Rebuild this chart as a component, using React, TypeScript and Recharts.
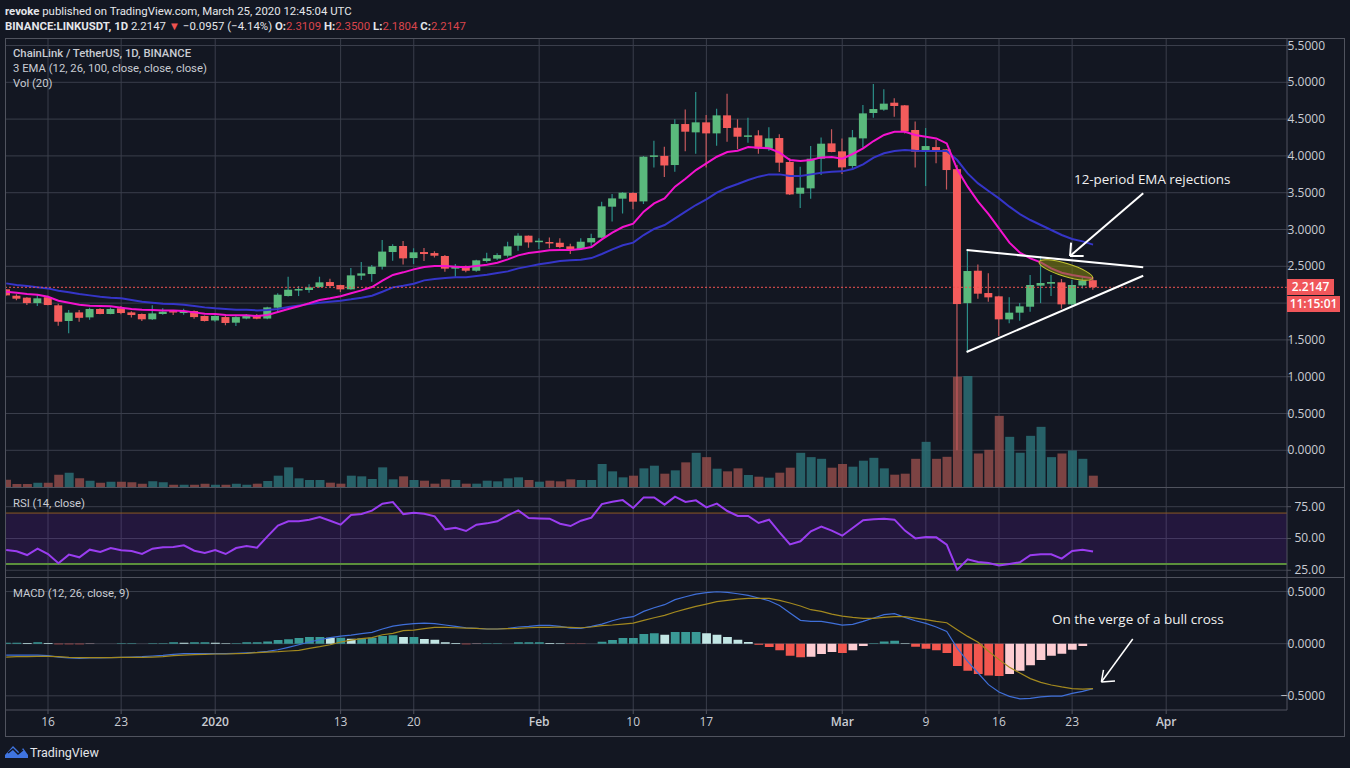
import React from "react";
import {
  ComposedChart, Bar, Line, XAxis, YAxis, CartesianGrid, ReferenceLine, ReferenceArea, ReferenceDot, Cell,
} from "recharts";

const firstDay = -4;
const opens = [
  2.187,2.1,2.074,2.0,2.08, 1.97,1.757,1.874,1.806,1.92, 1.852,1.93,1.874,1.852,1.78, 1.852,1.892,1.865,1.892,1.825,
  1.764,1.81,1.734,1.79,1.83, 1.79,1.938,2.096,2.173,2.178, 2.218,2.286,2.245,2.187,2.373, 2.395,2.495,2.694,2.776,2.612,
  2.694,2.68,2.64,2.468,2.504, 2.44,2.572,2.604,2.644,2.78, 2.916,2.835,2.83,2.82,2.771, 2.735,2.825,2.889,3.31,3.419,
  3.496,3.382,3.99,4.0,3.876, 4.433,4.32,4.456,4.306,4.551, 4.383,4.261,4.279,4.1,4.243, 3.917,3.487,3.559,3.962,4.17,
  4.062,3.863,4.238,4.583,4.628, 4.723,4.687,4.352,4.057,4.12, 4.089,3.82,2.0,2.44,2.137, 2.092,1.779,1.87,1.951,2.237,
  2.264,2.282,1.983,2.24,2.3109,
];
const highs = [
  2.19,2.12,2.08,2.11,2.1, 1.99,1.906,1.906,1.938,1.93, 1.94,1.96,1.89,1.86,1.97, 1.929,1.9,1.924,1.9,1.83,
  1.83,1.825,1.82,1.852,1.852, 1.95,2.133,2.359,2.232,2.255, 2.359,2.332,2.25,2.477,2.558, 2.517,2.857,2.798,2.843,2.744,
  2.748,2.703,2.653,2.531,2.51, 2.59,2.685,2.676,2.834,2.948, 2.92,2.88,2.893,2.88,2.807, 2.88,2.943,3.378,3.482,3.51,
  3.505,3.998,4.207,4.125,4.497, 4.632,4.868,4.555,4.641,4.845, 4.497,4.519,4.35,4.388,4.293, 3.967,3.853,4.134,4.25,4.361,
  4.238,4.352,4.691,4.977,4.904, 4.782,4.69,4.469,4.379,4.216, 4.09,3.876,2.735,2.526,2.404, 2.1,2.078,2.0,2.381,2.64,
  2.381,2.327,2.314,2.368,2.35,
];
const lows = [
  2.1,2.04,1.974,1.96,1.97, 1.693,1.589,1.747,1.775,1.85, 1.85,1.847,1.806,1.757,1.77, 1.843,1.838,1.843,1.788,1.75,
  1.747,1.7,1.689,1.78,1.78, 1.78,1.883,2.09,2.096,2.14, 2.21,2.214,2.15,2.18,2.314, 2.291,2.458,2.576,2.526,2.531,
  2.572,2.62,2.427,2.359,2.418, 2.427,2.553,2.585,2.62,2.712, 2.753,2.735,2.744,2.744,2.667, 2.72,2.775,2.88,3.11,3.219,
  3.274,3.346,3.844,3.713,3.786, 4.062,4.03,3.844,4.139,4.193, 4.089,4.18,4.03,4.07,3.781, 3.468,3.292,3.419,3.74,4.05,
  3.754,3.817,4.112,4.519,4.614, 4.533,4.306,3.844,3.591,3.899, 3.545,0.0,1.34,2.06,2.019, 1.553,1.725,1.761,1.883,2.0,
  2.096,1.924,1.951,2.2,2.1804,
];
const closes = [
  2.105,2.06,2.0,2.065,1.974, 1.747,1.87,1.8,1.92,1.852, 1.92,1.865,1.838,1.78,1.86, 1.884,1.879,1.892,1.81,1.757,
  1.825,1.73,1.81,1.825,1.788, 1.942,2.114,2.182,2.191,2.214, 2.282,2.232,2.187,2.377,2.404, 2.495,2.7,2.776,2.608,2.69,
  2.667,2.644,2.468,2.504,2.44, 2.581,2.608,2.653,2.771,2.916, 2.825,2.848,2.81,2.762,2.717, 2.834,2.884,3.315,3.423,3.5,
  3.378,3.989,4.007,3.87,4.433, 4.329,4.456,4.306,4.551,4.379, 4.261,4.279,4.1,4.238,3.908, 3.477,3.568,3.962,4.166,4.053,
  3.844,4.252,4.578,4.637,4.71, 4.678,4.333,4.057,4.134,4.075, 3.808,1.987,2.436,2.128,2.078, 1.779,1.87,1.956,2.246,2.273,
  2.286,1.983,2.246,2.309,2.2147,
];
const ema12 = [
  2.155,2.142,2.123,2.114,2.087, 2.033,2.006,1.978,1.965,1.96, 1.956,1.938,1.92,1.911,1.906, 1.901,1.901,1.892,1.874,1.856,
  1.852,1.838,1.834,1.834,1.825, 1.838,1.879,1.92,1.956,1.997, 2.042,2.065,2.092,2.133,2.173, 2.219,2.305,2.382,2.418,2.458,
  2.49,2.504,2.504,2.495,2.486, 2.504,2.522,2.549,2.594,2.649, 2.68,2.699,2.717,2.721,2.721, 2.735,2.762,2.866,2.957,3.034,
  3.079,3.242,3.355,3.423,3.582, 3.69,3.808,3.899,3.989,4.053, 4.071,4.121,4.112,4.103,4.044, 3.944,3.93,3.944,3.98,3.985,
  3.962,4.026,4.103,4.202,4.284, 4.329,4.329,4.284,4.261,4.238, 4.17,3.817,3.582,3.378,3.21, 3.016,2.821,2.685,2.608,2.554,
  2.472,2.413,2.382,2.359,2.336,
];
const ema26 = [
  2.268,2.246,2.232,2.214,2.2, 2.169,2.146,2.123,2.105,2.087, 2.074,2.065,2.042,2.019,2.006, 1.992,1.988,1.978,1.96,1.942,
  1.929,1.92,1.911,1.911,1.901, 1.906,1.92,1.947,1.969,1.988, 2.006,2.019,2.033,2.051,2.074, 2.101,2.155,2.214,2.237,2.264,
  2.309,2.327,2.341,2.35,2.35, 2.368,2.386,2.409,2.431,2.472, 2.499,2.527,2.549,2.572,2.581, 2.59,2.612,2.667,2.73,2.785,
  2.821,2.925,3.007,3.061,3.151, 3.242,3.333,3.41,3.5,3.568, 3.618,3.672,3.718,3.749,3.749, 3.727,3.727,3.749,3.772,3.786,
  3.79,3.822,3.885,3.976,4.035, 4.066,4.08,4.071,4.066,4.066, 4.066,3.944,3.763,3.627,3.523, 3.423,3.31,3.21,3.129,3.061,
  2.993,2.925,2.871,2.839,2.794,
];
const volumes = [
  .066,.027,.027,.039,.039, .111,.129,.078,.057,.039, .048,.048,.042,.03,.051, .042,.021,.021,.021,.03,
  .021,.021,.03,.021,.03, .054,.102,.177,.078,.063, .063,.039,.03,.102,.096, .072,.177,.069,.096,.063,
  .057,.03,.069,.063,.03, .03,.057,.051,.078,.087, .063,.048,.057,.051,.069, .063,.063,.207,.141,.087,
  .102,.168,.192,.12,.15, .222,.308,.269,.165,.141, .168,.108,.093,.084,.129, .174,.308,.269,.254,.174,
  .207,.183,.237,.263,.168, .111,.12,.254,.407,.254, .272,.994,1,.302,.335, .641,.452,.308,.461,.542,
  .269,.302,.329,.254,.102,
];
const rsi = [
  41,39.9,37,42,37.8, 30.5,37.3,35.2,41.2,39.4, 42.5,40.7,40.2,37.8,42, 43.1,43.3,44.6,40.4,38.6,
  41,37.8,42.5,44.1,42.8, 51.7,60.1,63.5,63.5,64.8, 66.9,64,60.9,68.5,69.2, 71.9,77.4,78.7,69.2,70.3,
  69.5,67.4,57.2,58.5,55.9, 60.9,61.9,63.5,68.2,72.1, 66.1,65.8,65.6,61.6,59.8, 64,66.4,77.1,78.9,80.2,
  74,82.3,82.3,76.6,82.9, 78.7,80,74.5,77.4,71.6, 67.7,67.7,62.2,64.8,54.8, 45.4,47.8,55.6,59.3,56.2,
  52.2,58.2,64.3,65.1,65.6, 64.8,56.2,50.1,51.2,50.9, 45.2,25.5,33.6,31.5,30.8, 28.7,30,31.3,36.8,37.6,
  37.6,34.2,40.2,41.2,39.7,
];
const macd = [
  -.109,-.109,-.109,-.109,-.115, -.128,-.137,-.141,-.137,-.137, -.134,-.131,-.128,-.125,-.118, -.112,-.102,-.096,-.096,-.096,
  -.096,-.096,-.093,-.089,-.083, -.073,-.058,-.035,-.01,.016, .038,.058,.073,.083,.096, .109,.141,.169,.182,.192,
  .198,.192,.179,.166,.153, .147,.141,.141,.147,.16, .166,.176,.176,.166,.15, .147,.166,.188,.22,.246,
  .259,.31,.345,.374,.422, .45,.476,.489,.498,.492, .479,.463,.438,.412,.367, .294,.224,.214,.214,.198,
  .179,.185,.214,.246,.278, .288,.252,.22,.195,.16, .118,-.042,-.169,-.281,-.393, -.463,-.505,-.53,-.524,-.511,
  -.502,-.502,-.476,-.457,-.431,
];
const signal = [
  -.128,-.125,-.125,-.121,-.121, -.125,-.131,-.134,-.134,-.134, -.134,-.131,-.131,-.131,-.128, -.125,-.115,-.109,-.105,-.102,
  -.099,-.099,-.096,-.093,-.086, -.08,-.077,-.07,-.064,-.045, -.029,-.01,.016,.035,.048, .058,.086,.099,.125,.131,
  .144,.157,.157,.153,.15, .147,.141,.141,.144,.147, .153,.157,.157,.16,.157, .153,.16,.173,.179,.188,
  .198,.224,.249,.272,.304, .332,.358,.38,.403,.415, .428,.435,.435,.435,.415, .39,.361,.326,.31,.284,
  .265,.252,.243,.243,.252, .259,.259,.246,.23,.214, .201,.134,.07,.013,-.073, -.153,-.227,-.281,-.335,-.371,
  -.396,-.415,-.431,-.435,-.431,
];
const histogram = [
  .01,.01,.006,.013,.006, -.006,-.006,-.006,-.003,0, 0,.003,.003,0,.003, .003,.013,.01,.013,.013,
  .01,.003,.003,.013,.013, .022,.035,.042,.054,.064, .064,.058,.058,.048,.051, .058,.073,.08,.064,.064,
  .045,.038,.013,.006,-.006, -.003,.003,.003,0,.013, .013,.013,.006,.003,-.003, -.003,0,.019,.035,.054,
  .054,.093,.099,.086,.112, .112,.112,.099,.086,.064, .038,.016,-.01,-.032,-.064, -.115,-.131,-.125,-.099,-.08,
  -.089,-.064,-.022,.003,.022, .029,.003,-.029,-.048,-.064, -.089,-.214,-.259,-.291,-.304, -.31,-.291,-.259,-.208,-.157,
  -.115,-.096,-.058,-.022,0,
];
const timeTicks = [0, 7, 16, 28, 35, 47, 56, 63, 76, 84, 91, 98, 107];
const timeLabels = ["16", "23", "2020", "13", "20", "Feb", "10", "17", "Mar", "9", "16", "23", "Apr"];
const boldLabels = ["2020", "Feb", "Mar", "Apr"];
const priceTicks = [0, 0.5, 1, 1.5, 2, 2.5, 3, 3.5, 4, 4.5, 5, 5.5];
const rsiTicks = [25, 50, 75];
const macdTicks = [-0.5, 0, 0.5];
const lastPrice = 2.2147;
const tagCoveredTick = 2;

const rows = opens.map((open, i) => ({
  day: firstDay + i,
  open,
  high: highs[i],
  low: lows[i],
  close: closes[i],
  range: [lows[i], highs[i]],
  ema12: ema12[i],
  ema26: ema26[i],
  volume: volumes[i],
  rsi: rsi[i],
  macd: macd[i],
  signal: signal[i],
  hist: histogram[i],
}));

const BG = "#131722";
const GRID = "#3a3e4b";
const TEXT = "#c9ccd3";
const FONT = "'Open Sans', 'Noto Sans', sans-serif";
const LEGEND_FONT = "Roboto, 'Noto Sans', sans-serif";
const X_DOMAIN: [number, number] = [-4.067, 118.56];
const W = 1350;
const MARGIN = { top: 0, right: 6, bottom: 0, left: 5.5 };

function Candle(props: any) {
  const { x, y, width, height, payload } = props;
  const { open, close, high, low } = payload;
  const up = close >= open;
  const top = Math.min(y, y + height);
  const h = Math.abs(height);
  const k = h / (high - low || 1);
  const bodyTop = top + (high - Math.max(open, close)) * k;
  const bodyH = Math.max(1.5, Math.abs(close - open) * k);
  const cx = x + width / 2;
  return (
    <g>
      <line x1={cx} x2={cx} y1={top} y2={top + h} stroke={up ? "#2b8f88" : "#c4585c"} strokeWidth={1.2} />
      <rect x={x} y={bodyTop} width={width} height={bodyH} fill={up ? "#5ab97c" : "#f45c5c"} />
    </g>
  );
}

function ValueTick(props: any) {
  const { x, y, payload, digits, skip } = props;
  const t = Number(payload.value);
  if (skip === t) return <g />;
  const s = (t < 0 ? "\u2212" : "") + Math.abs(t).toFixed(digits);
  return (
    <text x={x + 32} y={y + 4} textAnchor="end" fontSize={12} fontFamily={FONT} fill={TEXT}>{s}</text>
  );
}

function TimeTick(props: any) {
  const { x, y, payload } = props;
  const label = timeLabels[timeTicks.indexOf(payload.value)];
  return (
    <text x={x} y={y + 10} textAnchor="middle" fontSize={12} fontFamily={FONT} fill={TEXT}
      fontWeight={boldLabels.includes(label) ? 600 : 400}>{label}</text>
  );
}

function Highlight(props: any) {
  const { cx, cy } = props;
  return (
    <ellipse cx={cx} cy={cy} rx={28} ry={6.5} transform={`rotate(17 ${cx} ${cy})`}
      fill="#7d7d10" fillOpacity={0.6} stroke="#c4c431" strokeWidth={1} />
  );
}

const axisLine = { stroke: "#50535e" };
const tickLine = { stroke: "#50535e" };

const abs = (left: number, top: number, extra: React.CSSProperties = {}): React.CSSProperties => ({
  position: "absolute", left, top, whiteSpace: "nowrap", fontFamily: LEGEND_FONT, fontSize: 11.3, lineHeight: "15px", color: TEXT, ...extra,
});

export default function App() {
  return (
    <div style={{ position: "absolute", left: 0, top: 0, width: 1350, height: 768, background: BG, overflow: "hidden" }}>
      <div style={abs(5, 4, { color: "#e4e6ea", fontSize: 11.4 })}><b>revoke</b> published on TradingView.com, March 25, 2020 12:45:04 UTC</div>
      <div style={abs(5, 19, { color: "#e4e6ea", fontSize: 11.4 })}>
        <b>BINANCE:LINKUSDT, 1D</b> 2.2147 <span style={{ color: "#ef5350" }}>▼</span> −0.0957 (−4.14%) <b>O:</b><span style={{ color: "#d9454b" }}>2.3109</span> <b>H:</b><span style={{ color: "#d9454b" }}>2.3500</span> <b>L:</b><span style={{ color: "#d9454b" }}>2.1804</span> <b>C:</b><span style={{ color: "#d9454b" }}>2.2147</span>
      </div>

      {/* main panel */}
      <div style={{ position: "absolute", left: 0, top: 38 }}>
        <ComposedChart width={W} height={449} data={rows} margin={MARGIN}>
          <CartesianGrid xAxisId="x" yAxisId="price" stroke={GRID} horizontalValues={priceTicks} verticalValues={timeTicks} />
          <XAxis xAxisId="x" dataKey="day" type="number" domain={X_DOMAIN} allowDataOverflow hide ticks={timeTicks} />
          <XAxis xAxisId="vx" dataKey="day" type="number" domain={X_DOMAIN} allowDataOverflow hide />
          <YAxis yAxisId="price" orientation="right" width={57} domain={[-0.4986, 5.602]} ticks={priceTicks} allowDataOverflow
            axisLine={axisLine} tickLine={tickLine} tickSize={4} interval={0} tick={<ValueTick digits={4} skip={tagCoveredTick} />} />
          <YAxis yAxisId="vol" hide domain={[0, 4.045]} allowDataOverflow />
          <Bar xAxisId="vx" yAxisId="vol" dataKey="volume" barSize={9} isAnimationActive={false}>
            {rows.map((r) => <Cell key={r.day} fill={r.close >= r.open ? "#2c6f74" : "#8f4b49"} fillOpacity={0.85} />)}
          </Bar>
          <Bar xAxisId="x" yAxisId="price" dataKey="range" barSize={8} isAnimationActive={false} shape={<Candle />} />
          <Line xAxisId="x" yAxisId="price" dataKey="ema26" stroke="#3535c8" strokeWidth={2} dot={false} isAnimationActive={false} />
          <Line xAxisId="x" yAxisId="price" dataKey="ema12" stroke="#f412cf" strokeWidth={2} dot={false} isAnimationActive={false} />
          <ReferenceLine xAxisId="x" yAxisId="price" y={lastPrice} stroke="#ef5350" strokeDasharray="2 2" />
          <ReferenceDot xAxisId="x" yAxisId="price" x={97.4} y={2.45} r={1} shape={<Highlight />} />
          <ReferenceLine xAxisId="x" yAxisId="price" segment={[{ x: 87.9, y: 2.721 }, { x: 104.8, y: 2.486 }]} stroke="#fff" strokeWidth={2} />
          <ReferenceLine xAxisId="x" yAxisId="price" segment={[{ x: 87.9, y: 1.336 }, { x: 104.8, y: 2.372 }]} stroke="#fff" strokeWidth={2} />
          <ReferenceLine xAxisId="x" yAxisId="price" segment={[{ x: 104.8, y: 3.492 }, { x: 97.8, y: 2.64 }]} stroke="#fff" strokeWidth={2} />
          <ReferenceLine xAxisId="x" yAxisId="price" segment={[{ x: 97.8, y: 2.64 }, { x: 97.9, y: 2.821 }]} stroke="#fff" strokeWidth={2} />
          <ReferenceLine xAxisId="x" yAxisId="price" segment={[{ x: 97.8, y: 2.64 }, { x: 99.1, y: 2.64 }]} stroke="#fff" strokeWidth={2} />
        </ComposedChart>
      </div>

      {/* RSI panel */}
      <div style={{ position: "absolute", left: 0, top: 488 }}>
        <ComposedChart width={W} height={89} data={rows} margin={MARGIN}>
          <CartesianGrid stroke={GRID} horizontalValues={rsiTicks} verticalValues={timeTicks} />
          <XAxis dataKey="day" type="number" domain={X_DOMAIN} allowDataOverflow hide ticks={timeTicks} />
          <YAxis orientation="right" width={57} domain={[19.73, 89.7]} ticks={rsiTicks} allowDataOverflow
            axisLine={axisLine} tickLine={tickLine} tickSize={4} interval={0} tick={<ValueTick digits={2} />} />
          <ReferenceArea y1={30} y2={70} fill="#8a1fe0" fillOpacity={0.14} stroke="none" />
          <ReferenceLine y={70} stroke="#8a5a22" strokeWidth={1} />
          <ReferenceLine y={30} stroke="#5b8f3c" strokeWidth={2} />
          <Line dataKey="rsi" stroke="#9a3df0" strokeWidth={2} dot={false} isAnimationActive={false} />
        </ComposedChart>
      </div>

      {/* MACD panel */}
      <div style={{ position: "absolute", left: 0, top: 578 }}>
        <ComposedChart width={W} height={158} data={rows} margin={MARGIN}>
          <CartesianGrid stroke={GRID} horizontalValues={macdTicks} verticalValues={timeTicks} />
          <XAxis dataKey="day" type="number" domain={X_DOMAIN} allowDataOverflow height={26} ticks={timeTicks} interval={0}
            axisLine={axisLine} tickLine={tickLine} tickSize={4} tick={<TimeTick />} />
          <YAxis orientation="right" width={57} domain={[-0.636, 0.63]} ticks={macdTicks} allowDataOverflow
            axisLine={axisLine} tickLine={tickLine} tickSize={4} interval={0} tick={<ValueTick digits={4} />} />
          <Bar dataKey="hist" barSize={8.8} isAnimationActive={false}>
            {rows.map((r, i) => {
              const prev = i > 0 ? histogram[i - 1] : r.hist;
              const fill = r.hist >= 0 ? (r.hist >= prev ? "#3a9a96" : "#c2e6e4") : (r.hist <= prev ? "#f2574f" : "#fdcdd2");
              return <Cell key={r.day} fill={fill} />;
            })}
          </Bar>
          <Line dataKey="macd" stroke="#3f6fd8" strokeWidth={1.2} dot={false} isAnimationActive={false} />
          <Line dataKey="signal" stroke="#a3891f" strokeWidth={1.2} dot={false} isAnimationActive={false} />
          <ReferenceLine segment={[{ x: 103.8, y: 0.045 }, { x: 100.8, y: -0.367 }]} stroke="#fff" strokeWidth={1.5} />
          <ReferenceLine segment={[{ x: 100.8, y: -0.367 }, { x: 101, y: -0.252 }]} stroke="#fff" strokeWidth={1.5} />
          <ReferenceLine segment={[{ x: 100.8, y: -0.367 }, { x: 102.1, y: -0.358 }]} stroke="#fff" strokeWidth={1.5} />
        </ComposedChart>
      </div>

      {/* frame and separators */}
      <div style={{ position: "absolute", left: 5, top: 38, width: 1338, height: 697, border: "1px solid #50535e", pointerEvents: "none" }} />
      <div style={{ position: "absolute", left: 5, top: 487, width: 1339, height: 1, background: "#50535e" }} />
      <div style={{ position: "absolute", left: 5, top: 577, width: 1339, height: 1, background: "#50535e" }} />

      {/* legends */}
      <div style={abs(13, 46, { fontWeight: 500 })}>ChainLink / TetherUS, 1D, BINANCE</div>
      <div style={abs(13, 61)}>3 EMA (12, 26, 100, close, close, close)</div>
      <div style={abs(13, 76)}>Vol (20)</div>
      <div style={abs(13, 496)}>RSI (14, close)</div>
      <div style={abs(13, 586)}>MACD (12, 26, close, 9)</div>

      {/* annotations */}
      <div style={abs(1074, 172, { fontFamily: FONT, fontSize: 13.4, color: "#f0f0f0" })}>12-period EMA rejections</div>
      <div style={abs(1052, 612, { fontFamily: FONT, fontSize: 13.5, color: "#f0f0f0" })}>On the verge of a bull cross</div>

      {/* live price tags */}
      <div style={abs(1287, 279, { fontFamily: FONT, fontSize: 12, width: 47, height: 16, background: "#f0565a", color: "#fff", textAlign: "center", fontWeight: 600, lineHeight: "16px" })}>2.2147</div>
      <div style={abs(1287, 296, { fontFamily: FONT, fontSize: 12, width: 53, height: 16, background: "#f0565a", color: "#fff", textAlign: "center", fontWeight: 600, lineHeight: "16px" })}>11:15:01</div>

      {/* brand */}
      <svg style={{ position: "absolute", left: 5, top: 744 }} width={24} height={15} viewBox="0 0 24 15">
        <path d="M0 14 L0 11 L8 2 L12 6 L15 9 L18 4 L23 11 L23 14 Z" fill="#3f74e0" />
        <path d="M3 9 L8 5 L13 10 L18 6" fill="none" stroke="#131722" strokeWidth={1.5} />
      </svg>
      <div style={abs(30, 745, { fontSize: 12.5, color: "#e4e6ea" })}>TradingView</div>
    </div>
  );
}
